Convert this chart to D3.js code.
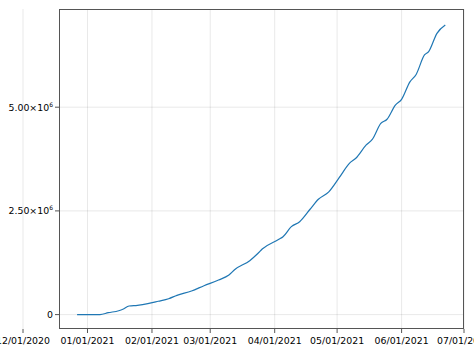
<!DOCTYPE html>
<html>
<head>
<meta charset="utf-8">
<script src="https://cdn.jsdelivr.net/npm/d3@7"></script>
<style>
  body { margin: 0; background: #fff; }
  svg { display: block; font-family: "DejaVu Sans", sans-serif; }
</style>
</head>
<body>
<div id="chart"></div>
<script>
// data (date, cumulative value)
const dates = [
  "2020-12-27", "2021-01-07", "2021-01-11", "2021-01-16", "2021-01-18", "2021-01-21",
  "2021-01-25", "2021-01-30", "2021-02-04", "2021-02-09", "2021-02-13", "2021-02-20",
  "2021-02-26", "2021-03-05", "2021-03-10", "2021-03-13", "2021-03-20", "2021-03-24",
  "2021-03-26", "2021-04-03", "2021-04-05", "2021-04-09", "2021-04-13", "2021-04-18",
  "2021-04-22", "2021-04-27", "2021-05-02", "2021-05-07", "2021-05-10", "2021-05-15",
  "2021-05-18", "2021-05-22", "2021-05-25", "2021-05-29", "2021-06-01", "2021-06-05",
  "2021-06-08", "2021-06-12", "2021-06-14", "2021-06-18", "2021-06-22"
];
const values = [
  0, 0, 46000, 94000, 128000, 207000,
  224000, 263000, 321000, 383000, 465000, 569000,
  697000, 834000, 955000, 1092000, 1300000, 1478000,
  1580000, 1815000, 1878000, 2120000, 2240000, 2540000,
  2780000, 2960000, 3300000, 3650000, 3770000, 4090000,
  4230000, 4610000, 4710000, 5050000, 5190000, 5610000,
  5790000, 6260000, 6340000, 6780000, 6980000
];
const xTicks = ["2020-12-01", "2021-01-01", "2021-02-01", "2021-03-01",
                "2021-04-01", "2021-05-01", "2021-06-01", "2021-07-01"];
const yTicks = [0, 2500000, 5000000];
const yTickLabels = [["0", ""], ["2.50×10", "6"], ["5.00×10", "6"]];

const W = 474, H = 355;
const frame = { left: 59, right: 464, top: 9, bottom: 329 };
const parse = d3.utcParse("%Y-%m-%d");
const fmt = d3.utcFormat("%m/%d/%Y");

const data = dates.map((d, i) => ({ date: parse(d), value: values[i] }));

const x = d3.scaleUtc()
  .domain([parse(xTicks[0]), parse(xTicks[xTicks.length - 1])])
  .range([23, 464]);
const y = d3.scaleLinear()
  .domain([0, 5000000])
  .range([314.6, 107.2]);

const svg = d3.select("#chart").append("svg")
  .attr("width", W)
  .attr("height", H);

// grid lines
svg.append("g").selectAll("line")
  .data(xTicks.map(parse))
  .enter().append("line")
  .attr("x1", d => x(d)).attr("x2", d => x(d))
  .attr("y1", frame.top).attr("y2", frame.bottom)
  .attr("stroke", "#000").attr("stroke-opacity", 0.09).attr("stroke-width", 1);

svg.append("g").selectAll("line")
  .data(yTicks)
  .enter().append("line")
  .attr("x1", frame.left).attr("x2", frame.right)
  .attr("y1", d => y(d)).attr("y2", d => y(d))
  .attr("stroke", "#000").attr("stroke-opacity", 0.09).attr("stroke-width", 1);

// the line
const line = d3.line()
  .x(d => x(d.date))
  .y(d => y(d.value))
  .curve(d3.curveMonotoneX);

svg.append("path")
  .datum(data)
  .attr("fill", "none")
  .attr("stroke", "#1f77b4")
  .attr("stroke-width", 1.2)
  .attr("d", line);

// frame
svg.append("rect")
  .attr("x", frame.left + 0.5).attr("y", frame.top + 0.5)
  .attr("width", frame.right - frame.left - 1)
  .attr("height", frame.bottom - frame.top - 1)
  .attr("fill", "none")
  .attr("stroke", "#555")
  .attr("stroke-width", 1);

// x ticks + labels
const gx = svg.append("g");
xTicks.map(parse).forEach(d => {
  gx.append("line")
    .attr("x1", x(d)).attr("x2", x(d))
    .attr("y1", frame.bottom).attr("y2", frame.bottom + 4)
    .attr("stroke", "#555");
  gx.append("text")
    .attr("x", x(d)).attr("y", 344)
    .attr("text-anchor", "middle")
    .style("font-size", "9.4px")
    .style("fill", "#000")
    .text(fmt(d));
});

// y ticks + labels
const gy = svg.append("g");
yTicks.forEach((v, i) => {
  gy.append("line")
    .attr("x1", frame.left - 4).attr("x2", frame.left)
    .attr("y1", y(v)).attr("y2", y(v))
    .attr("stroke", "#555");
  const t = gy.append("text")
    .attr("x", frame.left - 6).attr("y", y(v) + 3.4)
    .attr("text-anchor", "end")
    .style("font-size", "9.4px")
    .style("fill", "#000");
  t.append("tspan").text(yTickLabels[i][0]);
  if (yTickLabels[i][1]) {
    t.append("tspan")
      .attr("dy", -4)
      .style("font-size", "6px")
      .text(yTickLabels[i][1]);
  }
});
</script>
</body>
</html>
